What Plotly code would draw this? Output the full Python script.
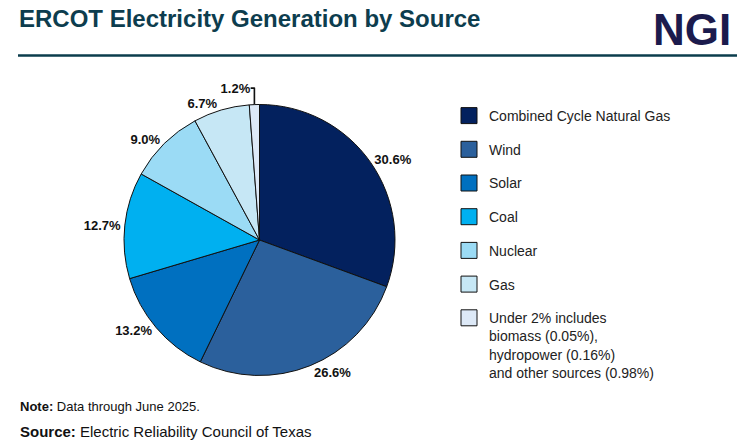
import plotly.graph_objects as go

labels = ["Combined Cycle Natural Gas", "Wind", "Solar", "Coal", "Nuclear", "Gas",
          "Under 2% includes<br>biomass (0.05%),<br>hydropower (0.16%)<br>and other sources (0.98%)"]
values = [30.6, 26.6, 13.2, 12.7, 9.0, 6.7, 1.2]
colors = ["#03215e", "#2b609c", "#0070c0", "#00b0f0", "#9bdbf5", "#c6e7f5", "#dde9f7"]

W, H = 756, 444
FONT = "Liberation Sans, Arial, sans-serif"

fig = go.Figure()
fig.add_trace(go.Pie(
    labels=labels, values=values, sort=False, direction="clockwise", rotation=0,
    marker=dict(colors=colors, line=dict(color="#111111", width=1)),
    textposition="outside", texttemplate="%{value:.1f}%",
    textfont=dict(family=FONT, size=13, color="#111111", weight="bold"),
    showlegend=False, hoverinfo="label+value",
    domain=dict(x=[124 / W, 395 / W], y=[1 - 377 / H, 1 - 103 / H]),
))

for i, (lab, col) in enumerate(zip(labels, colors)):
    fig.add_trace(go.Scatter(
        x=[None], y=[None], mode="markers", name=lab, legendgroup=f"g{i}",
        marker=dict(symbol="square", size=16, color=col, line=dict(color="#111111", width=1)),
        showlegend=True,
    ))

fig.update_layout(
    width=W, height=H, margin=dict(l=0, r=0, t=0, b=0),
    paper_bgcolor="white", plot_bgcolor="white",
    xaxis=dict(visible=False), yaxis=dict(visible=False),
    legend=dict(x=449 / W, y=1 - 100 / H, xanchor="left", yanchor="top",
                font=dict(family=FONT, size=14, color="#222222"),
                tracegroupgap=12.5, itemsizing="trace", valign="top",
                bgcolor="rgba(0,0,0,0)"),
    font=dict(family=FONT),
    annotations=[
        dict(text="<b>ERCOT Electricity Generation by Source</b>", x=17 / W, y=1 - 18.5 / H,
             xref="paper", yref="paper", xanchor="left", yanchor="middle", showarrow=False,
             font=dict(family=FONT, size=24, color="#0d3d4e")),
        dict(text="<b>NGI</b>", x=692 / W, y=1 - 29 / H,
             xref="paper", yref="paper", xanchor="center", yanchor="middle", showarrow=False,
             font=dict(family=FONT, size=44, color="#1b1b4d")),
        dict(text="<b>Note:</b> Data through June 2025.", x=18 / W, y=1 - 406 / H,
             xref="paper", yref="paper", xanchor="left", yanchor="middle", showarrow=False,
             font=dict(family=FONT, size=13, color="#111111")),
        dict(text="<b>Source:</b> Electric Reliability Council of Texas", x=18 / W, y=1 - 431 / H,
             xref="paper", yref="paper", xanchor="left", yanchor="middle", showarrow=False,
             font=dict(family=FONT, size=15, color="#111111")),
    ],
    shapes=[
        dict(type="line", xref="paper", yref="paper", x0=18 / W, x1=737 / W,
             y0=1 - 55.5 / H, y1=1 - 55.5 / H, line=dict(color="#0b3d4c", width=2.5)),
    ],
)

fig.write_html("out.html")
